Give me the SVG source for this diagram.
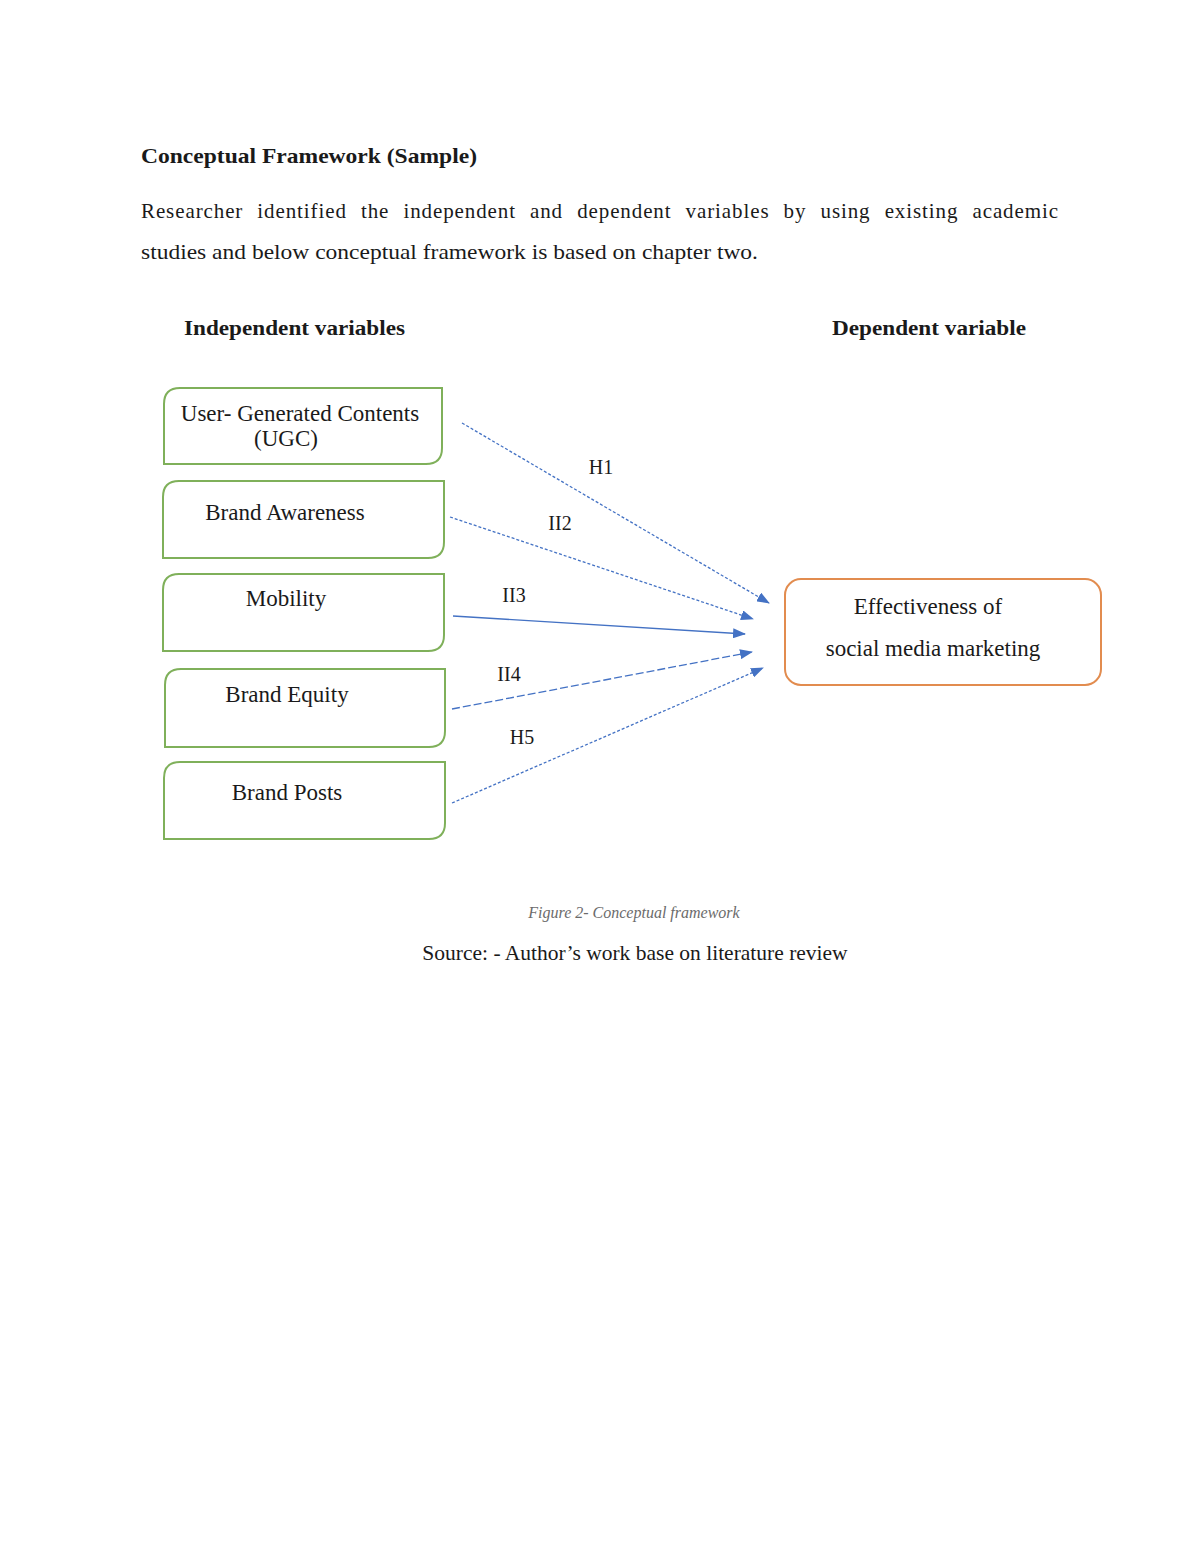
<svg xmlns="http://www.w3.org/2000/svg" width="1200" height="1553" viewBox="0 0 1200 1553">
<style>
.t{font-family:"Liberation Serif","Times New Roman",serif;fill:#1a1a1a}
.b{font-weight:bold}
.box{fill:#fff;stroke:#7fb05a;stroke-width:2}
.dep{fill:#fff;stroke:#e28c4f;stroke-width:2}
.lbl{font-size:23px}
.c{stroke:#4472c4;stroke-width:1.3;fill:none}
.d1{stroke-dasharray:3 2}
.d2{stroke-dasharray:8 3}
</style>
<defs>
<marker id="ah" markerWidth="13" markerHeight="10" refX="12" refY="5" orient="auto" markerUnits="userSpaceOnUse">
<path d="M0,0 L13,5 L0,10 Z" fill="#4472c4"/>
</marker>
</defs>
<rect width="1200" height="1553" fill="#fff"/>

<g id="header">
<text class="t b" x="141" y="163" font-size="21" textLength="336" lengthAdjust="spacingAndGlyphs">Conceptual Framework (Sample)</text>
<text class="t" x="141" y="218" font-size="21" word-spacing="8" textLength="917" lengthAdjust="spacing">Researcher identified the independent and dependent variables by using existing academic</text>
<text class="t" x="141" y="259" font-size="21" textLength="617" lengthAdjust="spacingAndGlyphs">studies and below conceptual framework is based on chapter two.</text>
<text class="t b" x="184" y="335" font-size="20" textLength="221" lengthAdjust="spacingAndGlyphs">Independent variables</text>
<text class="t b" x="832" y="335" font-size="20" textLength="194" lengthAdjust="spacingAndGlyphs">Dependent variable</text>
</g>

<g id="ugc">
<path class="box" d="M180,388 H442 V448 Q442,464 426,464 H164 V404 Q164,388 180,388 Z"/>
<text class="t lbl" x="300" y="421" text-anchor="middle">User- Generated Contents</text>
<text class="t lbl" x="286" y="446" text-anchor="middle">(UGC)</text>
</g>
<g id="brand-awareness">
<path class="box" d="M179,481 H444 V542 Q444,558 428,558 H163 V497 Q163,481 179,481 Z"/>
<text class="t lbl" x="285" y="520" text-anchor="middle">Brand Awareness</text>
</g>
<g id="mobility">
<path class="box" d="M179,574 H444 V635 Q444,651 428,651 H163 V590 Q163,574 179,574 Z"/>
<text class="t lbl" x="286" y="606" text-anchor="middle">Mobility</text>
</g>
<g id="brand-equity">
<path class="box" d="M181,669 H445 V731 Q445,747 429,747 H165 V685 Q165,669 181,669 Z"/>
<text class="t lbl" x="287" y="702" text-anchor="middle">Brand Equity</text>
</g>
<g id="brand-posts">
<path class="box" d="M180,762 H445 V823 Q445,839 429,839 H164 V778 Q164,762 180,762 Z"/>
<text class="t lbl" x="287" y="800" text-anchor="middle">Brand Posts</text>
</g>
<g id="effectiveness">
<rect class="dep" x="785" y="579" width="316" height="106" rx="16" ry="16"/>
<text class="t lbl" x="928" y="614" text-anchor="middle">Effectiveness of</text>
<text class="t lbl" x="933" y="656" text-anchor="middle">social media marketing</text>
</g>

<g id="connectors">
<line class="c d1" x1="462" y1="423" x2="769" y2="603" marker-end="url(#ah)"/>
<line class="c d1" x1="450" y1="517" x2="753" y2="619" marker-end="url(#ah)"/>
<line class="c" x1="453" y1="616" x2="745" y2="634" marker-end="url(#ah)"/>
<line class="c d2" x1="452" y1="709" x2="752" y2="652" marker-end="url(#ah)"/>
<line class="c d1" x1="452" y1="803" x2="763" y2="668" marker-end="url(#ah)"/>
<text class="t" x="601" y="474" font-size="20" text-anchor="middle">H1</text>
<text class="t" x="560" y="530" font-size="20" text-anchor="middle">II2</text>
<text class="t" x="514" y="602" font-size="20" text-anchor="middle">II3</text>
<text class="t" x="509" y="681" font-size="20" text-anchor="middle">II4</text>
<text class="t" x="522" y="744" font-size="20" text-anchor="middle">H5</text>
</g>

<g id="caption">
<text class="t" x="634" y="918" font-size="16" font-style="italic" style="fill:#6b6b6b" text-anchor="middle">Figure 2- Conceptual framework</text>
<text class="t" x="635" y="960" font-size="21.5" text-anchor="middle">Source: - Author’s work base on literature review</text>
</g>
</svg>
